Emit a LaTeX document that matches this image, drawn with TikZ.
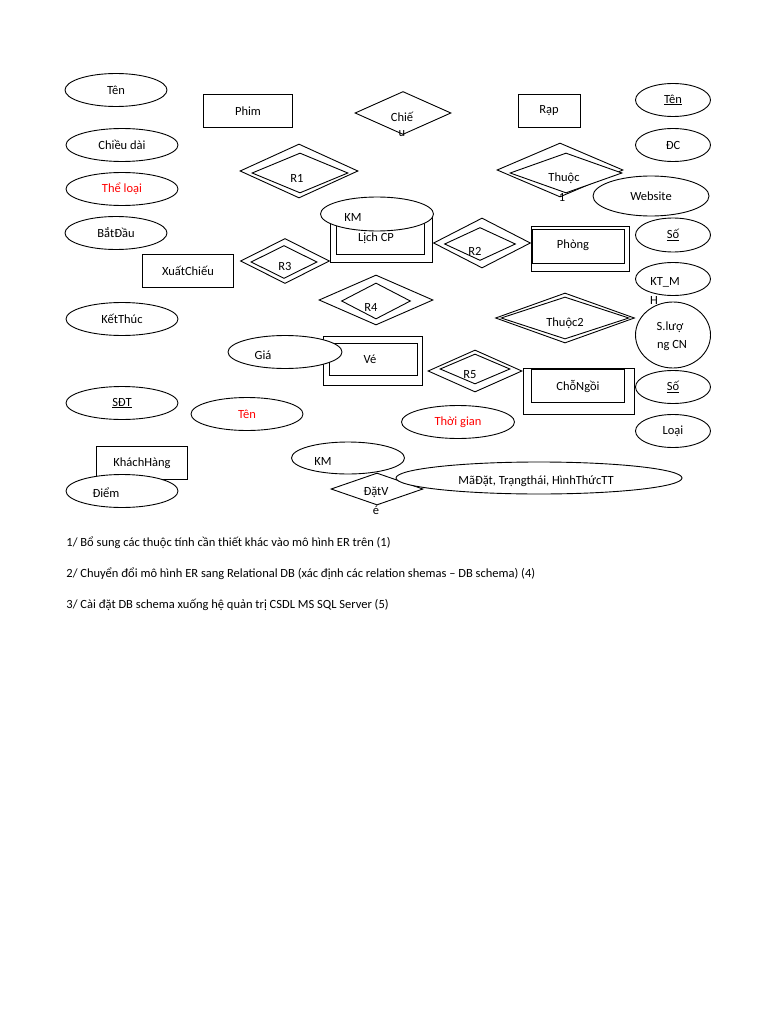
\documentclass[tikz,border=0pt]{standalone}
\usepackage{fontspec}
\setmainfont{Carlito}
\usetikzlibrary{shapes.geometric}
\begin{document}
\begin{tikzpicture}[x=1pt,y=-1pt,font=\fontsize{12.5}{14}\selectfont,line width=0.9pt,
  attr/.style={ellipse,draw,fill=white,inner sep=0pt},
  rel/.style={diamond,draw,fill=white,inner sep=0pt},
  ent/.style={rectangle,draw,fill=white,inner sep=0pt},
  lbl/.style={inner sep=0pt}]
\useasboundingbox (0,0) rectangle (768,1024);
\fill[white] (0,0) rectangle (768,1024);
% left column attributes
\node[attr,minimum width=102,minimum height=33] (aTen) at (116,90) {Tên};
\node[attr,minimum width=112,minimum height=33] (aCD) at (122,145) {Chiều dài};
\node[attr,minimum width=112,minimum height=33,text=red] (aTL) at (122,189) {Thể loại};
\node[attr,minimum width=102,minimum height=33] (aBD) at (116,233) {BắtĐầu};
\node[attr,minimum width=112,minimum height=33] (aKT) at (122,319) {KếtThúc};
\node[attr,minimum width=112,minimum height=33] (aSDT) at (122,403) {\underline{SĐT}};
% entities top
\node[ent,minimum width=89,minimum height=33] (Phim) at (248,111) {Phim};
\node[ent,minimum width=62,minimum height=33] (Rap) at (549,111) {Rạp};
\node[rel,minimum width=96,minimum height=43] (Chieu) at (403,113) {};
\node[lbl] (tChieu) at (402,117) {Chiế};
\node[lbl] (tChieu2) at (402,134) {u};
% right column
\node[attr,minimum width=75,minimum height=33] (rTen) at (673,100) {\underline{Tên}};
\node[attr,minimum width=75,minimum height=33] (rDC) at (673,145) {ĐC};
% R1
\node[rel,minimum width=118,minimum height=54] (R1) at (299,171) {};
\node[rel,minimum width=96,minimum height=40] (R1i) at (300,173) {};
\node[lbl] (tR1) at (297,178) {R1};
% Thuoc 1
\node[rel,minimum width=126,minimum height=54] (Th1) at (560,170) {};
\node[rel,minimum width=112,minimum height=40] (Th1i) at (566,173) {};
\node[lbl] (tTh1) at (564,178) {Thuộc};
\node[lbl] (tTh1b) at (562,197) {1};
\node[attr,minimum width=116,minimum height=40] (Web) at (651,196) {Website};
% Lich CP
\node[ent,minimum width=102,minimum height=50] (LCP) at (381,237) {};
\node[ent,minimum width=88,minimum height=37] (LCPi) at (380,236) {};
\node[lbl] (tLCP) at (376,238) {Lịch CP};
\node[attr,minimum width=113,minimum height=34] (KM1) at (377,214) {};
\node[lbl] (tKM1) at (353,217) {KM};
% R2
\node[rel,minimum width=97,minimum height=50] (R2) at (482,243) {};
\node[rel,minimum width=71,minimum height=33] (R2i) at (480,244) {};
\node[lbl] (tR2) at (475,251) {R2};
% Phong
\node[ent,minimum width=98,minimum height=45] (Phong) at (580,249) {};
\node[ent,minimum width=92,minimum height=34] (Phongi) at (578,246) {};
\node[lbl] (tPhong) at (573,245) {Phòng};
\node[attr,minimum width=75,minimum height=34] (rSo) at (673,235) {\underline{Số}};
\node[attr,minimum width=75,minimum height=33] (rKT) at (673,279) {};
\node[lbl] (tKT) at (665,282) {KT\_M};
\node[lbl] (tKT2) at (654,300) {H};
% XuatChieu
\node[ent,minimum width=91,minimum height=33] (XC) at (188,271) {XuấtChiếu};
\node[rel,minimum width=89,minimum height=45] (R3) at (285,261) {};
\node[rel,minimum width=66,minimum height=33] (R3i) at (284,262) {};
\node[lbl] (tR3) at (285,266) {R3};
% R4
\node[rel,minimum width=114,minimum height=50] (R4) at (376,300) {};
\node[rel,minimum width=69,minimum height=36] (R4i) at (376,301) {};
\node[lbl] (tR4) at (371,307) {R4};
% Thuoc2
\node[rel,minimum width=139,minimum height=50] (Th2) at (565,318) {};
\node[rel,minimum width=128,minimum height=42] (Th2i) at (565,318) {};
\node[lbl] (tTh2) at (565,323) {Thuộc2};
\node[attr,minimum width=75,minimum height=66] (SL) at (673,335) {};
\node[lbl] (tSL) at (670,327) {S.lượ};
\node[lbl] (tSL2) at (672,346) {ng CN};
% Ve
\node[ent,minimum width=99,minimum height=49] (Ve) at (373,361) {};
\node[ent,minimum width=88,minimum height=32] (Vei) at (373,359) {};
\node[lbl] (tVe) at (370,359) {Vé};
\node[attr,minimum width=114,minimum height=33] (Gia) at (285,352) {};
\node[lbl] (tGia) at (263,355) {Giá};
% R5
\node[rel,minimum width=94,minimum height=42] (R5) at (475,371) {};
\node[rel,minimum width=70,minimum height=30] (R5i) at (475,369) {};
\node[lbl] (tR5) at (470,375) {R5};
% ChoNgoi
\node[ent,minimum width=111,minimum height=46] (CN) at (579,391) {};
\node[ent,minimum width=93,minimum height=33] (CNi) at (578,386) {};
\node[lbl] (tCN) at (578,386) {ChỗNgồi};
\node[attr,minimum width=75,minimum height=33] (rSo2) at (673,387) {\underline{Số}};
\node[attr,minimum width=75,minimum height=33] (rLoai) at (673,431) {Loại};
% red attrs
\node[attr,minimum width=112,minimum height=33,text=red] (Ten2) at (247,414) {Tên};
\node[attr,minimum width=113,minimum height=33,text=red] (TG) at (458,422) {Thời gian};
% KhachHang
\node[ent,minimum width=91,minimum height=33] (KH) at (142,463) {};
\node[lbl] (tKH) at (142,463) {KháchHàng};
\node[attr,minimum width=112,minimum height=33] (Diem) at (122,491) {};
\node[lbl] (tDiem) at (106,493) {Điểm};
% DatVe
\node[rel,minimum width=92,minimum height=32] (DV) at (377,489) {};
\node[attr,minimum width=113,minimum height=32] (KM2) at (348,458) {};
\node[lbl] (tKM2) at (323,461) {KM};
\node[attr,minimum width=286,minimum height=32] (MD) at (539,478) {};
\node[lbl] (tMD) at (536,481) {MãĐặt, Trạngthái, HìnhThứcTT};
\node[lbl] (tDV) at (376,492) {ĐặtV};
\node[lbl] (tDV2) at (376,510) {é};
% questions
\node[lbl,anchor=west] (q1) at (66,543) {1/ Bổ sung các thuộc tính cần thiết khác vào mô hình ER trên (1)};
\node[lbl,anchor=west] (q2) at (66,574) {2/ Chuyển đổi mô hình ER sang Relational DB (xác định các relation shemas – DB schema) (4)};
\node[lbl,anchor=west] (q3) at (66,605) {3/ Cài đặt DB schema xuống hệ quản trị CSDL MS SQL Server (5)};
\end{tikzpicture}
\end{document}
